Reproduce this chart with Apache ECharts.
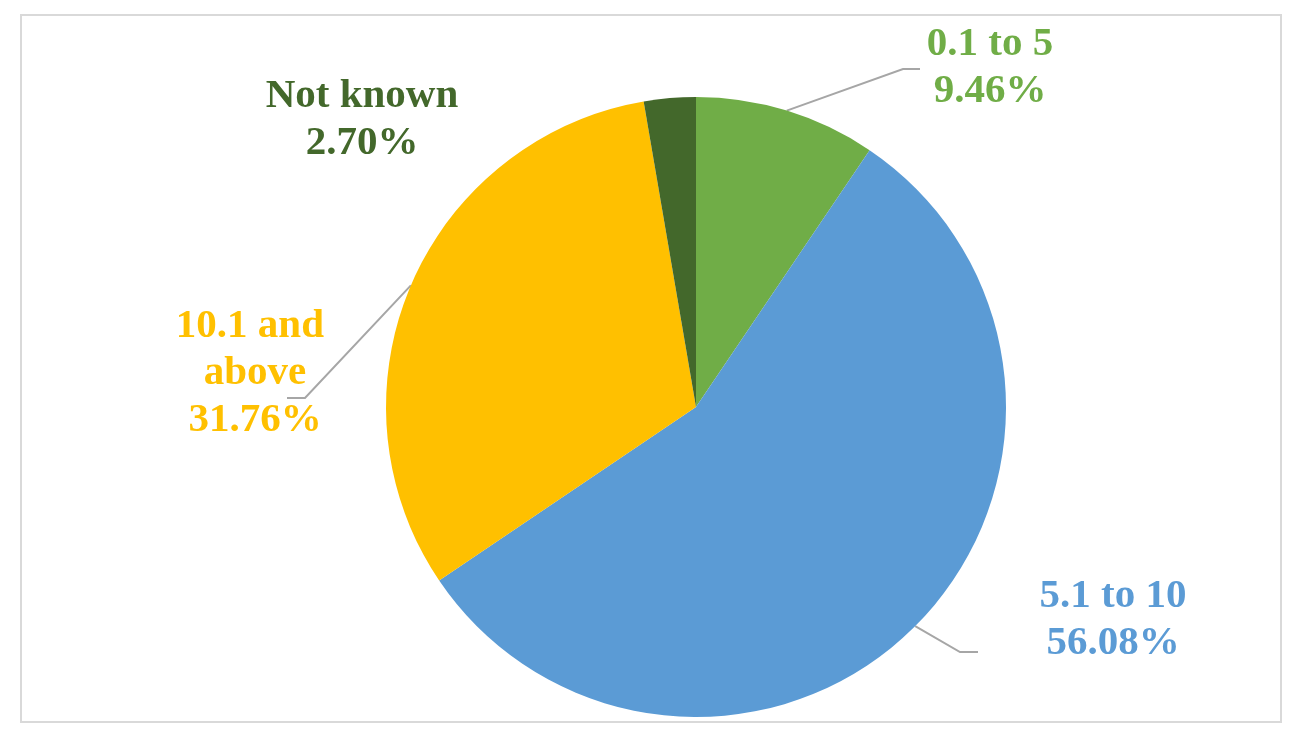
<!DOCTYPE html>
<html><head><meta charset="utf-8">
<script src="https://cdn.jsdelivr.net/npm/echarts@6/dist/echarts.min.js"></script>
<style>html,body{margin:0;padding:0;background:#fff}#c{width:1303px;height:734px}</style>
</head><body><div id="c"></div>
<script>
// ---- data ----
const categories = ['0.1 to 5', '5.1 to 10', '10.1 and above', 'Not known'];
const shares = [9.46, 56.08, 31.76, 2.70];
// ---- styles / layout ----
const colors = ['#70AD47', '#5B9BD5', '#FFC000', '#43682B'];
const labelAnchors = [[990, 68], [1113, 620], [255, 373], [362, 120]];
const leaderBends = [[[903, 69], [920, 69]], [[960, 652], [978, 652]], [[305, 398], [287, 398]], null];

const chart = echarts.init(document.getElementById('c'), null, {renderer: 'canvas'});
const data = categories.map((name, i) => ({
  name: name,
  value: shares[i],
  itemStyle: {color: colors[i]},
  label: Object.assign({color: colors[i]}, i === 2 ? {width: 175, overflow: 'break'} : {}),
  labelLine: {show: leaderBends[i] !== null}
}));

chart.setOption({
  animation: false,
  backgroundColor: '#ffffff',
  graphic: [{
    type: 'rect',
    shape: {x: 21, y: 15, width: 1260, height: 707},
    style: {fill: 'none', stroke: '#d9d9d9', lineWidth: 2},
    silent: true
  }],
  series: [{
    type: 'pie',
    center: [696, 407],
    radius: [0, 310],
    startAngle: 90,
    clockwise: true,
    avoidLabelOverlap: false,
    data: data,
    label: {
      show: true,
      position: 'outside',
      fontFamily: 'Liberation Serif',
      fontWeight: 'bold',
      fontSize: 41,
      lineHeight: 47,
      align: 'center',
      formatter: p => p.name + '\n' + p.value.toFixed(2) + '%'
    },
    labelLine: {
      show: true, length: 10, length2: 10, smooth: false,
      lineStyle: {color: '#a6a6a6', width: 2}
    },
    labelLayout: function (params) {
      const i = params.dataIndex;
      const out = {
        x: labelAnchors[i][0],
        y: labelAnchors[i][1],
        align: 'center',
        verticalAlign: 'middle'
      };
      if (leaderBends[i] && params.labelLinePoints) {
        const p0 = params.labelLinePoints[0];
        out.labelLinePoints = [[p0[0], p0[1]], leaderBends[i][0], leaderBends[i][1]];
      }
      return out;
    }
  }]
});
</script></body></html>
